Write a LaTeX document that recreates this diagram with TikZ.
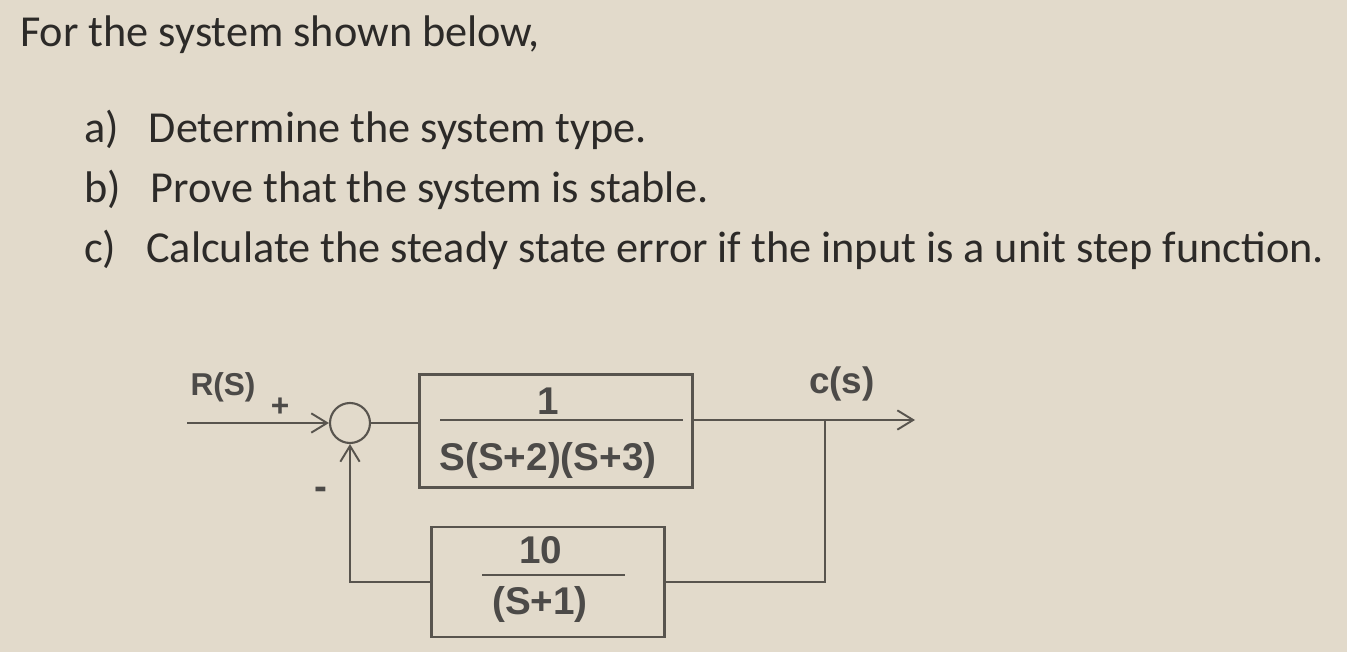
\documentclass[tikz,border=0pt]{standalone}
\usepackage{fontspec}
\setmainfont{Carlito}
\newfontfamily\diagfont{Liberation Sans}
\usetikzlibrary{arrows.meta}
\usetikzlibrary{positioning}
\definecolor{paper}{RGB}{226,218,203}
\definecolor{ink}{RGB}{44,42,40}
\definecolor{wire}{RGB}{88,84,78}

\begin{document}
\begin{tikzpicture}[x=0.02cm,y=-0.02cm,
  every node/.style={text=ink},
  question/.style={anchor=west,font=\fontsize{25.2}{30}\selectfont},
  blocklabel/.style={font=\diagfont\bfseries\fontsize{22}{24}\selectfont,text=ink!85},
  signallabel/.style={font=\diagfont\bfseries\fontsize{18}{20}\selectfont,text=ink!85},
  tfbox/.style={draw=wire,line width=1.3pt,rectangle,minimum width=5.46cm,minimum height=2.26cm},
  sumpoint/.style={draw=wire,line width=1.2pt,circle,minimum size=0.8cm,inner sep=0pt},
  wireline/.style={draw=wire,line width=1.1pt},
  barb/.style={-{Straight Barb[length=9pt,width=11pt,line width=1.1pt]}}]

\fill[paper] (0,0) rectangle (1347,652);
\useasboundingbox (0,0) rectangle (1347,652);

% question text
\node[question] (intro) at (14,35) {For the system shown below,};
\node[question] (qa) at (78,130) {a)\hspace{0.6cm}Determine the system type.};
\node[question] (qb) at (78,190) {b)\hspace{0.6cm}Prove that the system is stable.};
\node[question] (qc) at (78,250) {c)\hspace{0.6cm}Calculate the steady state error if the input is a unit step function.};

% blocks
\node[sumpoint] (sum) at (350,423) {};
\node[tfbox] (fwd) at (556,431) {};
\node[tfbox,minimum width=4.66cm,minimum height=2.2cm] (fb) at (548,582) {};

  % forward gain
  \node[blocklabel] (fwdnum) at (548,401) {1};
  \node[blocklabel] (fwdden) at (548,461) {S(S+2)(S+3)};
  \draw[wireline] (440,420) -- (683,420);

  % feedback gain
  \node[blocklabel] (fbnum) at (541,550) {10};
  \node[blocklabel] (fbden) at (540,605) {(S+1)};
  \draw[wireline] (482,575) -- (625,575);

% signals
\coordinate (rin) at (187,423);
\coordinate (cout) at (915,420);
\coordinate (tap) at (825,420);

\node[signallabel] (rlabel) at (223,387) {R(S)};
\node[signallabel,font=\diagfont\bfseries\fontsize{21}{22}\selectfont] (clabel) at (842,384) {c(s)};
\node[signallabel] (plus) at (280,407) {+};
\node[signallabel,font=\diagfont\bfseries\fontsize{22}{22}\selectfont] (minus) at (321,493) {-};

\draw[wireline,barb] (rin) -- (sum.west);
\draw[wireline] (sum.east) -- (fwd.west |- sum.east);
\draw[wireline,barb] (fwd.east |- tap) -- (cout);
\draw[wireline] (tap) |- (fb.east);
\draw[wireline,barb] (fb.west) -| (sum.south);

\end{tikzpicture}
\end{document}
